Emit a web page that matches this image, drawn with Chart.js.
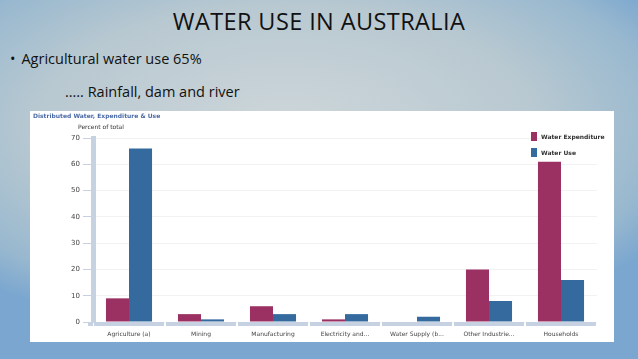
<!DOCTYPE html>
<html>
<head>
<meta charset="utf-8">
<script src="https://cdn.jsdelivr.net/npm/chart.js@4"></script>
<style>
  html, body { margin: 0; padding: 0; }
  body {
    width: 638px; height: 359px; overflow: hidden; position: relative;
    font-family: 'Open Sans', sans-serif;
    background: radial-gradient(ellipse 70% 60% at 45% 35%, #cdd6da 0%, #b9c9d1 55%, #98b8cf 85%, #7aa6cf 100%);
  }
  .title { position: absolute; top: 5px; left: 0; width: 638px; text-align: center; font-size: 23.5px; color: #111; letter-spacing: 0.4px; }
  .bullet { position: absolute; left: 10px; top: 49px; font-size: 14.5px; color: #111; }
  .bullet b { font-weight: normal; margin-right: 6px; }
  .sub { position: absolute; left: 65px; top: 82px; font-size: 14.5px; color: #111; }
  .panel { position: absolute; left: 30px; top: 111px; width: 584px; height: 231px; background: #fff; }
  .ptitle { position: absolute; left: 3px; top: 1px; font: bold 6px 'DejaVu Sans', sans-serif; color: #4b6aa6; }
  .yunit { position: absolute; left: 48px; top: 12px; font: 6px 'DejaVu Sans', sans-serif; color: #333; }
  .legend { position: absolute; left: 501px; top: 17px; font: bold 6px 'DejaVu Sans', sans-serif; color: #333; }
  .legend div { height: 16px; display: flex; align-items: center; }
  .legend span { display: inline-block; width: 6px; height: 9px; margin-right: 4px; }
  canvas { position: absolute; left: 0; top: 0; }
</style>
</head>
<body>
<div class="title">WATER USE IN AUSTRALIA</div>
<div class="bullet"><b>•</b>Agricultural water use 65%</div>
<div class="sub">….. Rainfall, dam and river</div>
<div class="panel">
  <canvas id="chart" width="584" height="231"></canvas>
  <div class="ptitle">Distributed Water, Expenditure &amp; Use</div>
  <div class="yunit">Percent of total</div>
  <div class="legend" id="legend"></div>
</div>
<script>
const categories = ['Agriculture (a)', 'Mining', 'Manufacturing', 'Electricity and...', 'Water Supply (b...', 'Other Industrie...', 'Households'];
const waterExpenditure = [9, 3, 6, 1, 0, 20, 61];
const waterUse = [66, 1, 3, 3, 2, 8, 16];
const yTicks = [0, 10, 20, 30, 40, 50, 60, 70];

const seriesColors = { exp: '#9b3163', use: '#346a9e' };
const axisBarColor = '#c6d2e2';

// segmented bar under each category, like the original axis
const xAxisBar = {
  id: 'xAxisBar',
  afterDatasetsDraw(chart) {
    const { ctx, chartArea, scales } = chart;
    const x = scales.x;
    const w = (chartArea.right - chartArea.left) / categories.length;
    ctx.save();
    ctx.fillStyle = axisBarColor;
    categories.forEach((c, i) => {
      const cx = x.getPixelForValue(i);
      ctx.fillRect(cx - w / 2 + 1, chartArea.bottom, w - 2, 4);
    });
    // y bar runs down to meet the x bar
    ctx.fillRect(chartArea.left - 5, chartArea.bottom, 5, 4);
    ctx.restore();
  }
};

const chart = new Chart(document.getElementById('chart'), {
  type: 'bar',
  data: {
    labels: categories,
    datasets: [
      { label: 'Water Expenditure', data: waterExpenditure, backgroundColor: seriesColors.exp },
      { label: 'Water Use', data: waterUse, backgroundColor: seriesColors.use }
    ]
  },
  options: {
    responsive: false,
    animation: false,
    events: [],
    categoryPercentage: 0.64,
    barPercentage: 1.0,
    layout: { padding: { top: 27, right: 17, left: 0, bottom: 0 } },
    plugins: { legend: { display: false }, tooltip: { enabled: false } },
    scales: {
      x: {
        grid: { display: false, drawTicks: false },
        border: { display: false },
        ticks: { color: '#444', font: { family: 'DejaVu Sans', size: 6 }, maxRotation: 0, autoSkip: false, padding: 9 },
        afterFit: s => { s.height = 20; }
      },
      y: {
        min: 0, max: 70,
        afterBuildTicks: s => { s.ticks = yTicks.map(v => ({ value: v })); },
        afterFit: s => { s.width = 63; },
        border: { color: axisBarColor, width: 5 },
        grid: { color: '#f0f2f4', tickLength: 10, tickColor: axisBarColor },
        ticks: { color: '#444', font: { family: 'DejaVu Sans', size: 7 }, padding: 3 }
      }
    }
  },
  plugins: [xAxisBar]
});

const legend = document.getElementById('legend');
chart.data.datasets.forEach(ds => {
  const row = document.createElement('div');
  row.innerHTML = `<span style="background:${ds.backgroundColor}"></span>${ds.label}`;
  legend.appendChild(row);
});
</script>
</body>
</html>
